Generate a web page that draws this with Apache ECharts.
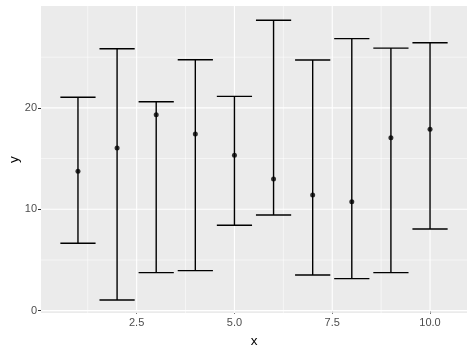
<!DOCTYPE html>
<html>
<head>
<meta charset="utf-8">
<script src="https://cdn.jsdelivr.net/npm/echarts@6/dist/echarts.min.js"></script>
<style>html,body{margin:0;padding:0;background:#fff}#c{width:474px;height:355px}</style>
</head>
<body>
<div id="c"></div>
<script>
const xs = [1, 2, 3, 4, 5, 6, 7, 8, 9, 10];
const yMean = [13.75, 16.05, 19.33, 17.43, 15.33, 12.99, 11.41, 10.75, 17.06, 17.89];
const yLow = [6.65, 1.05, 3.75, 3.95, 8.42, 9.44, 3.52, 3.16, 3.75, 8.06];
const yHigh = [21.05, 25.84, 20.6, 24.75, 21.14, 28.64, 24.72, 26.83, 25.9, 26.43];
const xMajor = [2.5, 5, 7.5, 10];
const xMinor = [1.25, 3.75, 6.25, 8.75];
const yMajor = [0, 10, 20];
const yMinor = [5, 15, 25];

const FONT = 'Liberation Sans, Arial, sans-serif';
const chart = echarts.init(document.getElementById('c'), null, {renderer: 'canvas'});

const gridData = [];
xMinor.forEach(v => gridData.push([v, 0, 0]));
yMinor.forEach(v => gridData.push([v, 1, 0]));
xMajor.forEach(v => gridData.push([v, 0, 1]));
yMajor.forEach(v => gridData.push([v, 1, 1]));

const barData = xs.map((x, i) => [x, yLow[i], yHigh[i]]);
const pointData = xs.map((x, i) => [x, yMean[i]]);

chart.setOption({
  animation: false,
  backgroundColor: '#ffffff',
  grid: {left: 41, right: 7, top: 6, bottom: 42, show: true, backgroundColor: '#EBEBEB', borderWidth: 0,
    containLabel: false, outerBoundsMode: 'none'},
  xAxis: {
    type: 'value', min: 0.055, max: 10.945,
    name: 'x', nameLocation: 'middle', nameGap: 21, nameMoveOverlap: false,
    nameTextStyle: {color: '#000', fontSize: 13.5, fontFamily: FONT},
    axisLine: {show: false},
    axisTick: {show: true, length: 3, lineStyle: {color: '#333', width: 1}, customValues: xMajor},
    axisLabel: {color: '#4D4D4D', fontSize: 11, fontFamily: FONT, margin: 4, customValues: xMajor,
      formatter: v => Number(v).toFixed(1)},
    splitLine: {show: false}
  },
  yAxis: {
    type: 'value', min: -0.23, max: 30.05,
    name: 'y', nameLocation: 'middle', nameGap: 20, nameRotate: 90, nameMoveOverlap: false,
    nameTextStyle: {color: '#000', fontSize: 13.5, fontFamily: FONT},
    axisLine: {show: false},
    axisTick: {show: true, length: 3, lineStyle: {color: '#333', width: 1}, customValues: yMajor},
    axisLabel: {color: '#4D4D4D', fontSize: 11, fontFamily: FONT, margin: 4, customValues: yMajor,
      formatter: v => String(Math.round(v))},
    splitLine: {show: false}
  },
  series: [
    {
      type: 'custom', silent: true, z: 1,
      data: gridData,
      renderItem: function (params, api) {
        const v = api.value(0), orient = api.value(1), major = api.value(2);
        const cs = params.coordSys;
        let shape;
        if (orient === 0) {
          const px = api.coord([v, 0])[0];
          shape = {x1: px, y1: cs.y, x2: px, y2: cs.y + cs.height};
        } else {
          const py = api.coord([1, v])[1];
          shape = {x1: cs.x, y1: py, x2: cs.x + cs.width, y2: py};
        }
        return {type: 'line', shape: shape, style: {stroke: '#ffffff', lineWidth: major ? 1.1 : 0.55}};
      }
    },
    {
      type: 'custom', silent: true, z: 3,
      data: barData,
      renderItem: function (params, api) {
        const x = api.value(0), lo = api.value(1), hi = api.value(2);
        const pLo = api.coord([x, lo]), pHi = api.coord([x, hi]);
        const half = api.size([0.9, 0])[0] / 2;
        const st = {stroke: '#000000', lineWidth: 1.4};
        return {type: 'group', children: [
          {type: 'line', shape: {x1: pLo[0], y1: pLo[1], x2: pHi[0], y2: pHi[1]}, style: st},
          {type: 'line', shape: {x1: pHi[0] - half, y1: pHi[1], x2: pHi[0] + half, y2: pHi[1]}, style: st},
          {type: 'line', shape: {x1: pLo[0] - half, y1: pLo[1], x2: pLo[0] + half, y2: pLo[1]}, style: st}
        ]};
      }
    },
    {
      type: 'scatter', z: 4, silent: true,
      data: pointData, symbol: 'circle', symbolSize: 5,
      itemStyle: {color: '#000000'}
    }
  ]
});
</script>
</body>
</html>
